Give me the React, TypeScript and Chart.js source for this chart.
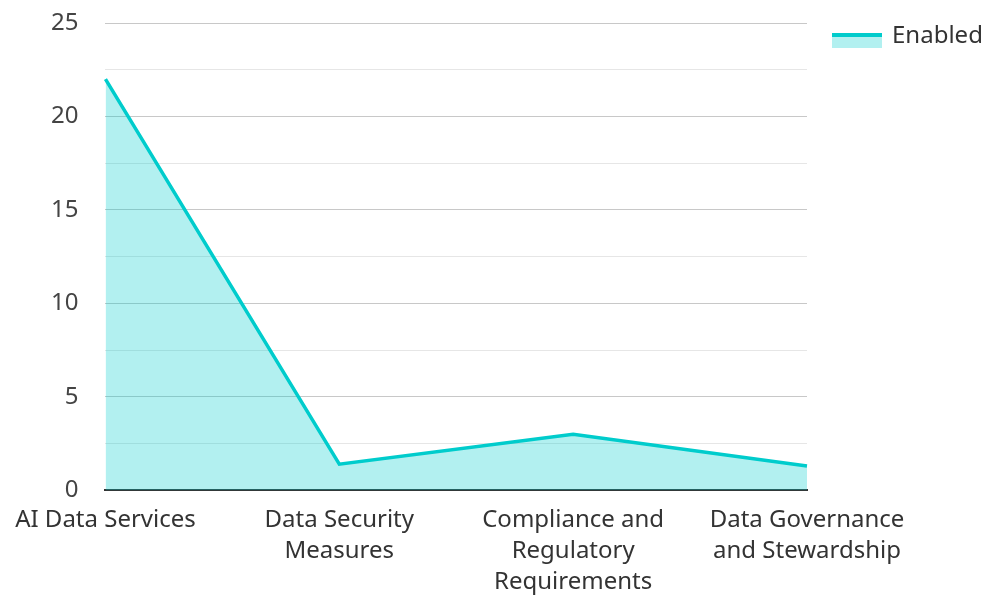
import React, { useEffect, useRef } from "react";
import { Chart, registerables } from "chart.js";

Chart.register(...registerables);

const categories: (string | string[])[] = [
  "AI Data Services",
  ["Data Security", "Measures"],
  ["Compliance and", "Regulatory", "Requirements"],
  ["Data Governance", "and Stewardship"],
];
const enabledValues = [22, 1.4, 3, 1.3];
const seriesName = "Enabled";

const LINE = "#00CCCC";
const FILL = "rgba(0,204,204,0.3)";
const FONT = "'Noto Sans', sans-serif";
const FONT_SIZE = 24;

const legendPlugin = {
  id: "customLegend",
  afterDraw(chart: any) {
    const { ctx, chartArea } = chart;
    const ds = chart.data.datasets[0];
    const x = chartArea.right + 25;
    const y = 33;
    ctx.save();
    ctx.fillStyle = FILL;
    ctx.fillRect(x, y, 50, 15);
    ctx.fillStyle = LINE;
    ctx.fillRect(x, y, 50, 4);
    ctx.fillStyle = "#333";
    ctx.font = `${FONT_SIZE}px ${FONT}`;
    ctx.textBaseline = "middle";
    ctx.textAlign = "left";
    ctx.fillText(ds.label, x + 60, 36);
    ctx.restore();
  },
};

export default function App() {
  const ref = useRef<HTMLCanvasElement>(null);
  useEffect(() => {
    document.body.style.margin = "0";
    const chart = new Chart(ref.current!, {
      type: "line",
      data: {
        labels: categories,
        datasets: [
          {
            label: seriesName,
            data: enabledValues,
            borderColor: LINE,
            backgroundColor: FILL,
            borderWidth: 3.5,
            fill: "origin",
            pointRadius: 0,
            tension: 0,
          },
        ],
      },
      plugins: [legendPlugin],
      options: {
        animation: false,
        responsive: false,
        maintainAspectRatio: false,
        layout: { padding: { left: 48, right: 181, top: 23, bottom: -7 } },
        plugins: {
          legend: { display: false },
          tooltip: { enabled: false },
        },
        scales: {
          x: {
            offset: false,
            grid: { display: false },
            border: { color: "#333", width: 2 },
            ticks: {
              color: "#333",
              font: { family: FONT, size: FONT_SIZE, lineHeight: 1.3 },
              maxRotation: 0,
              autoSkip: false,
              padding: 6,
            },
          },
          y: {
            min: 0,
            max: 25,
            border: { display: false },
            grid: {
              drawTicks: true,
              tickLength: 24,
              tickColor: "rgba(0,0,0,0)",
              lineWidth: 1,
              color: (ctx: any) =>
                ctx.tick && ctx.tick.value % 5 === 0 ? "#c8c8c8" : "#e6e6e6",
            },
            ticks: {
              stepSize: 2.5,
              color: "#444",
              font: { family: FONT, size: FONT_SIZE },
              padding: 3,
              callback: (v: any) => (Number(v) % 5 === 0 ? String(v) : ""),
            },
          },
        },
      },
    });
    return () => chart.destroy();
  }, []);
  return (
    <div style={{ width: 988, height: 597 }}>
      <canvas ref={ref} width={988} height={597} style={{ display: "block" }} />
    </div>
  );
}
